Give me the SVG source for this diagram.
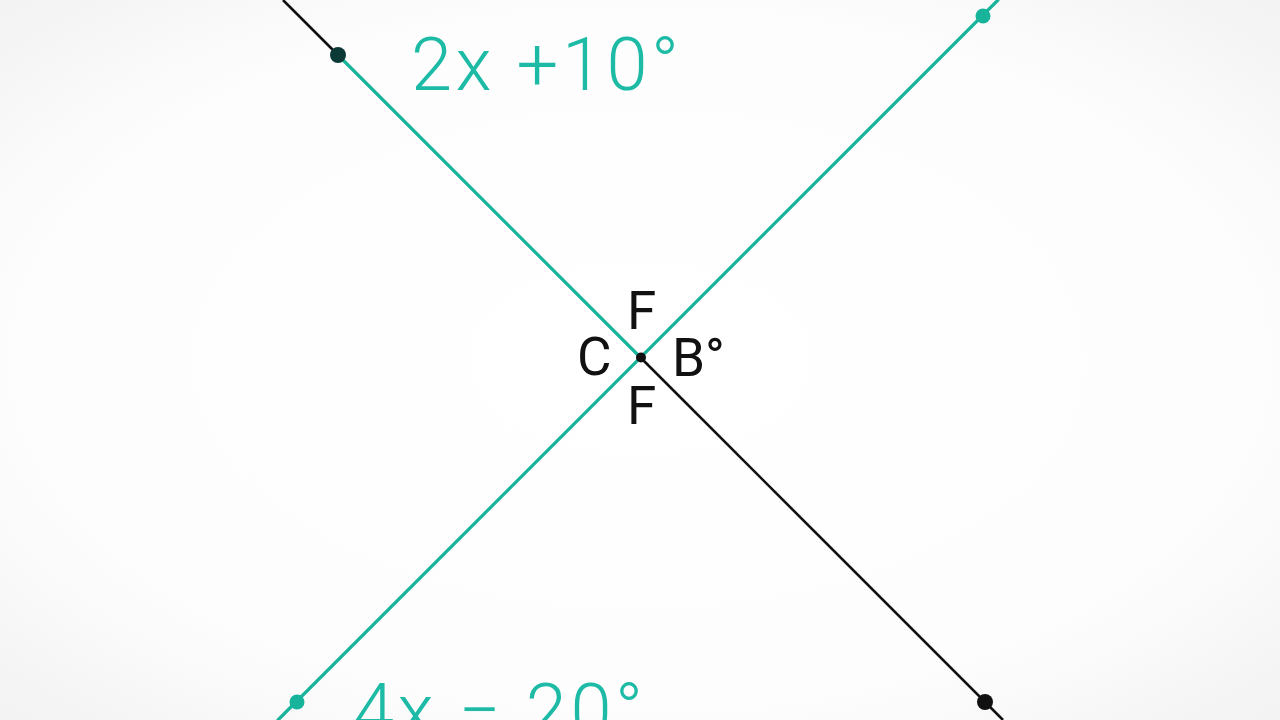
<svg xmlns="http://www.w3.org/2000/svg" width="1280" height="720" viewBox="0 0 1280 720">
<defs>
<radialGradient id="bg" cx="50%" cy="50%" r="75%">
<stop offset="0" stop-color="#ffffff"/>
<stop offset="0.65" stop-color="#fdfdfd"/>
<stop offset="1" stop-color="#f0f0f0"/>
</radialGradient>
<style>
.teal{stroke:#17b39b;stroke-width:3.2;fill:none;stroke-linecap:round}
.blk{stroke:#111;stroke-width:2.6;fill:none}
.eq{font-family:Roboto,"Liberation Sans",sans-serif;font-weight:300;font-size:74px;fill:#1dbaa6;letter-spacing:3.5px}
.lbl{font-family:Roboto,"Liberation Sans",sans-serif;font-weight:400;font-size:53px;fill:#111}
</style>
</defs>
<rect width="1280" height="720" fill="url(#bg)"/>
<g id="connectors">
<line class="blk" x1="283" y1="0" x2="338" y2="55"/>
<line class="teal" x1="338" y1="55" x2="640.5" y2="357.5"/>
<line class="blk" x1="640.5" y1="357.5" x2="1003" y2="720"/>
<line class="teal" x1="278" y1="720" x2="998" y2="0"/>
</g>
<g id="point-top-left"><circle cx="338" cy="55" r="8" fill="#0b3a36"/></g>
<g id="point-top-right"><circle cx="983" cy="16" r="7.5" fill="#17b39b"/></g>
<g id="point-bottom-left"><circle cx="297" cy="702" r="7.5" fill="#17b39b"/></g>
<g id="point-bottom-right"><circle cx="985" cy="702" r="8" fill="#111"/></g>
<g id="point-center"><circle cx="641" cy="357.5" r="5" fill="#111"/></g>
<g id="label-top"><text class="eq" x="411" y="90">2x +10°</text></g>
<g id="label-bottom"><text class="eq" x="353" y="736">4x − 20°</text></g>
<g id="angle-labels">
<text class="lbl" x="627" y="329">F</text>
<text class="lbl" x="577" y="375">C</text>
<text class="lbl" x="672" y="376">B°</text>
<text class="lbl" x="627" y="424">F</text>
</g>
</svg>
